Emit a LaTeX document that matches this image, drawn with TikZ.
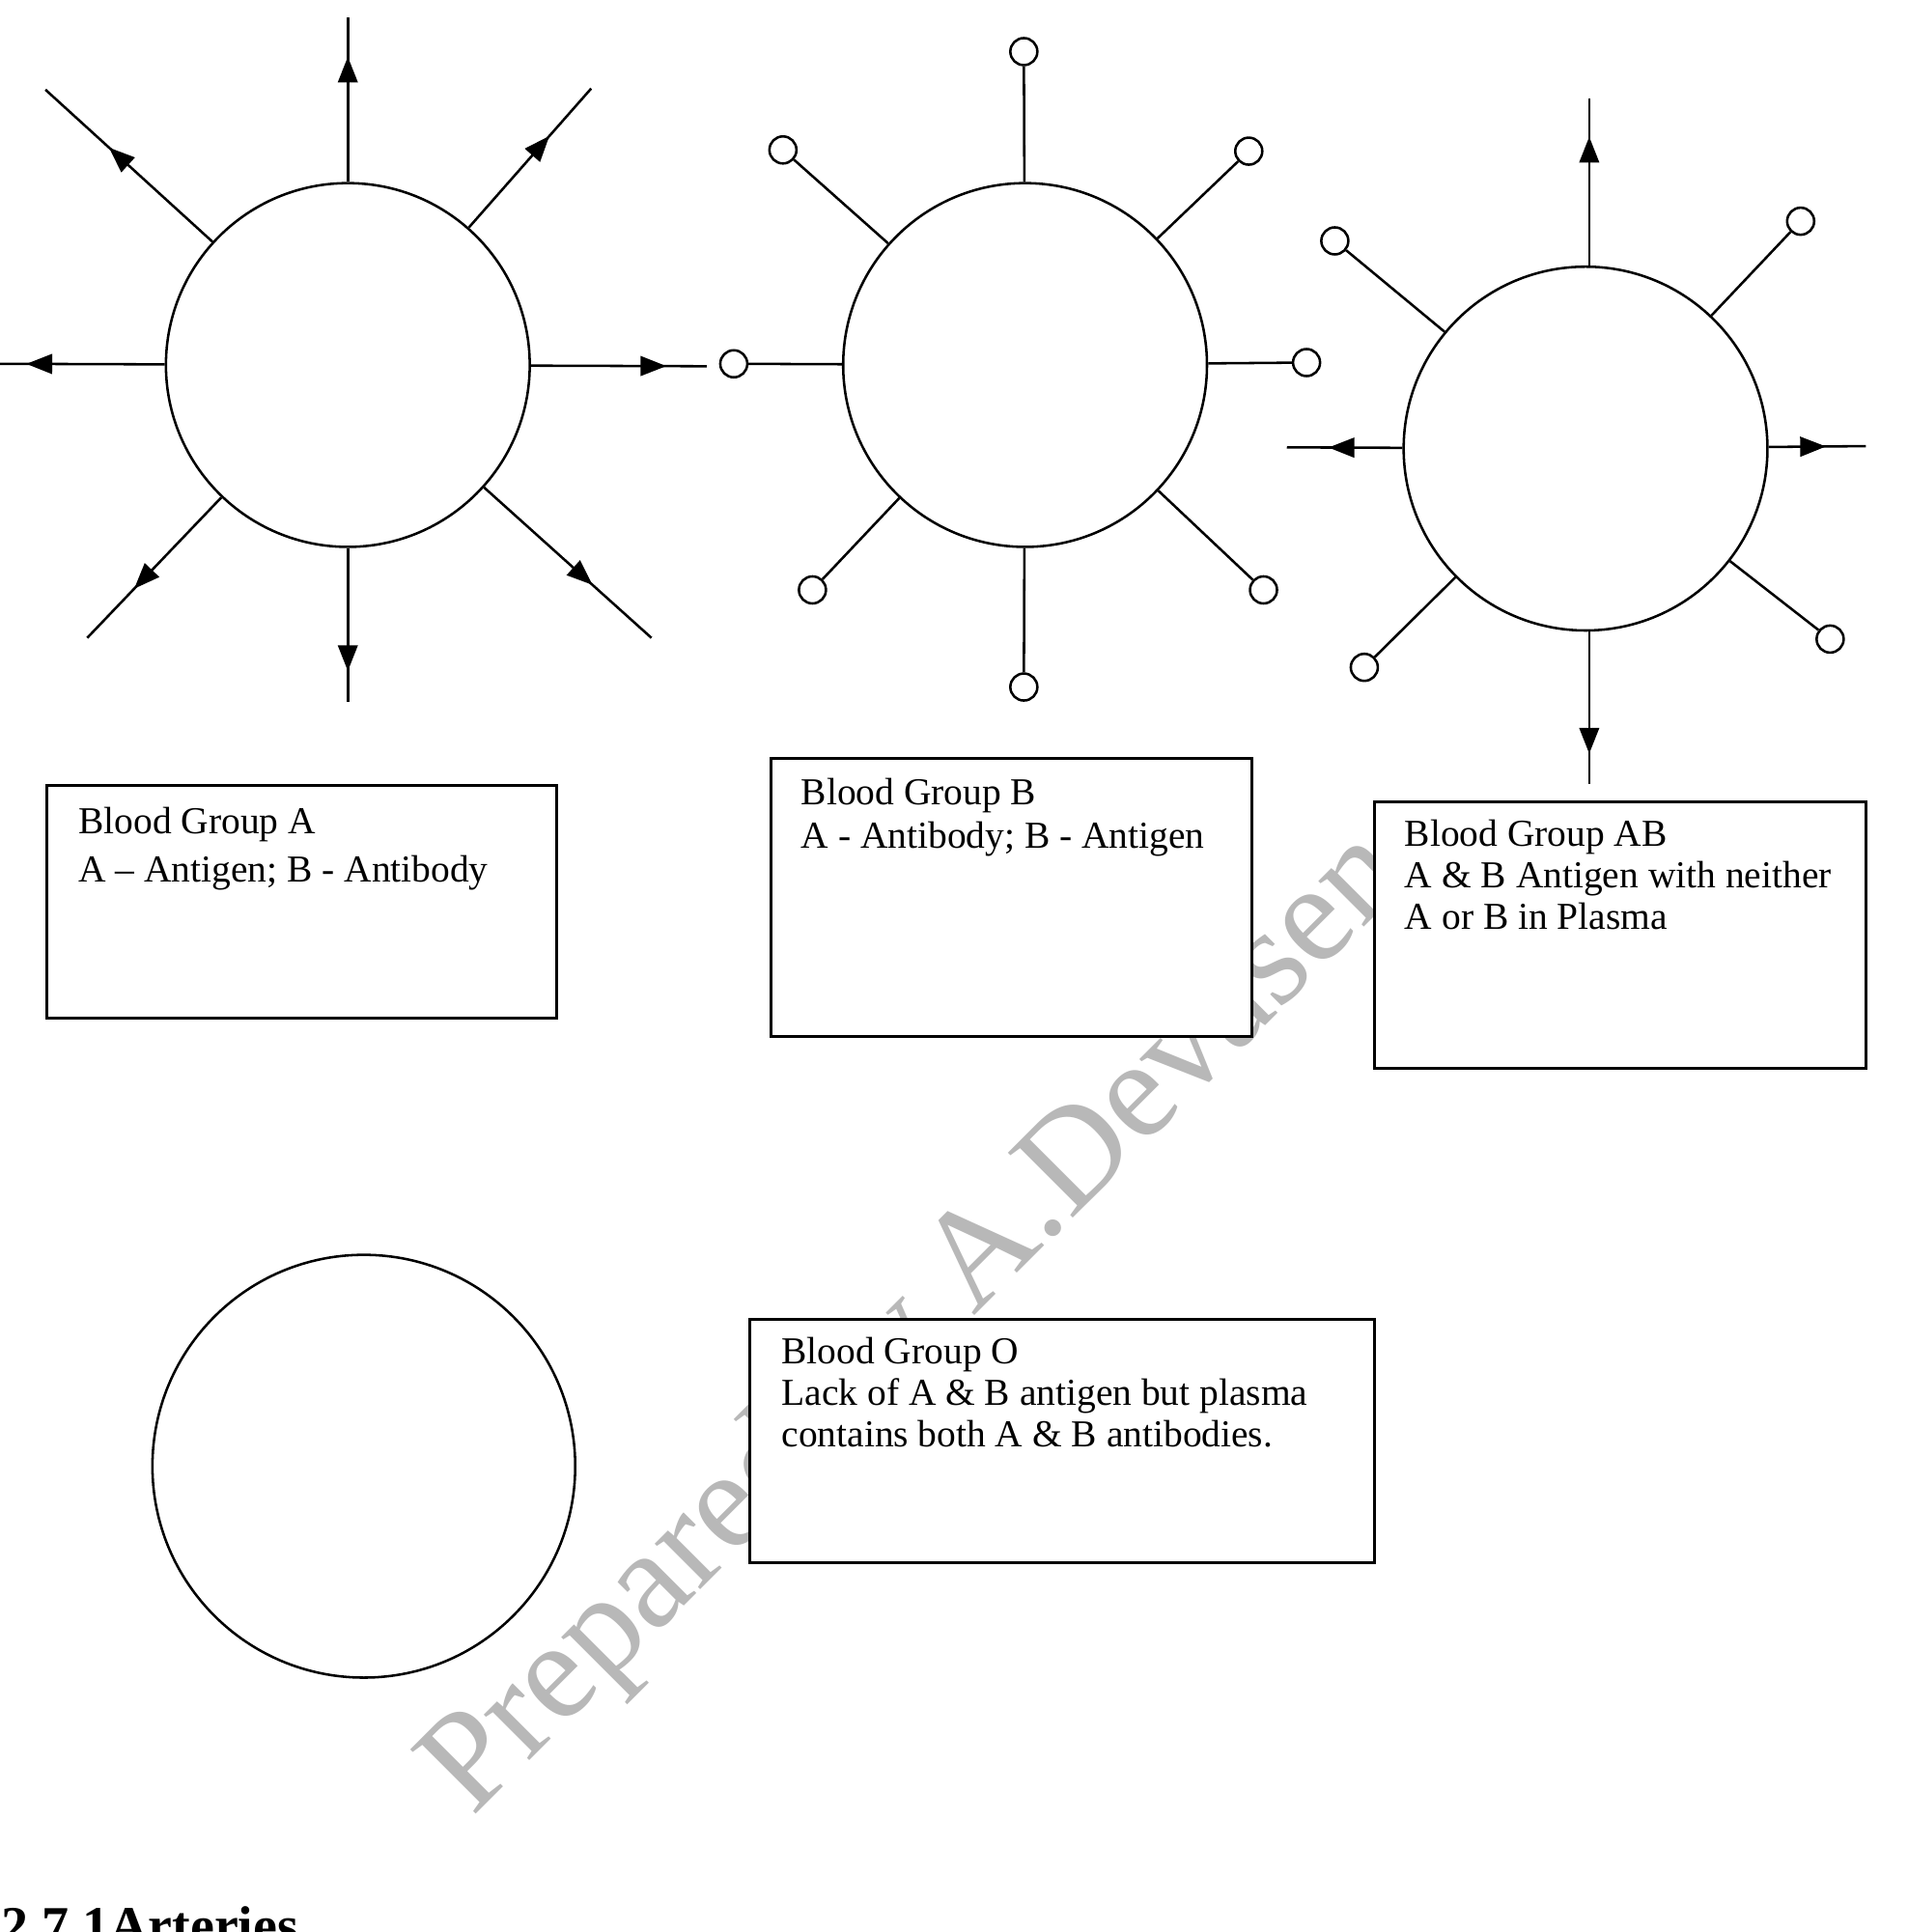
\documentclass[tikz,border=0pt]{standalone}
\usepackage{fontspec}
\setmainfont{Liberation Serif}
\usetikzlibrary{arrows.meta,decorations.markings}
\begin{document}
\begin{tikzpicture}[x=0.5pt,y=-0.5pt,line width=1pt,
  cell/.style={circle,draw,minimum size=148pt,inner sep=0pt},
  cellO/.style={circle,draw,minimum size=172pt,inner sep=0pt},
  bub/.style={circle,draw,minimum size=11pt,inner sep=0pt},
  midarrow/.style={postaction={decorate},decoration={markings,mark=at position #1 with {\arrow{Triangle[length=10.5pt,width=8pt]}}}},
  txtbox/.style={draw,line width=1.2pt,fill=white,inner sep=0pt},
  boxtext/.style={anchor=north west,align=left,inner sep=0pt,font=\fontsize{15.5}{18}\selectfont}]
\clip (0,0) rectangle (1552,1572);
\fill[white] (0,0) rectangle (1552,1572);
% watermark
\node[rotate=45,text=black!28,font=\fontsize{57}{57}\selectfont] (wm) at (765,1060) {Prepared by A.Devasena};
% Group A
\node[cell] (cA) at (283,297) {};
\coordinate (a1) at (283,14); \coordinate (a2) at (481,72); \coordinate (a3) at (575,298);
\coordinate (a4) at (530,519); \coordinate (a5) at (283,571); \coordinate (a6) at (71,519);
\coordinate (a7) at (0,296); \coordinate (a8) at (37,73);
\draw[midarrow=0.76] (cA) -- (a1);
\draw[midarrow=0.66] (cA) -- (a2);
\draw[midarrow=0.77] (cA) -- (a3);
\draw[midarrow=0.65] (cA) -- (a4);
\draw[midarrow=0.8] (cA) -- (a5);
\draw[midarrow=0.65] (cA) -- (a6);
\draw[midarrow=0.84] (cA) -- (a7);
\draw[midarrow=0.62] (cA) -- (a8);
% Group B
\node[cell] (cB) at (834,297) {};
\node[bub] (b1) at (833,42) {}; \node[bub] (b2) at (1016,123) {}; \node[bub] (b3) at (1063,295) {};
\node[bub] (b4) at (1028,480) {}; \node[bub] (b5) at (833,559) {}; \node[bub] (b6) at (661,480) {};
\node[bub] (b7) at (597,296) {}; \node[bub] (b8) at (637,122) {};
\foreach \i in {1,...,8} \draw (cB) -- (b\i);
% Group AB
\node[cell] (cAB) at (1290,365) {};
\coordinate (c1) at (1293,80); \coordinate (c3) at (1518,363); \coordinate (c5) at (1293,638); \coordinate (c7) at (1047,364);
\node[bub] (c2) at (1465,180) {}; \node[bub] (c4) at (1489,520) {};
\node[bub] (c6) at (1110,543) {}; \node[bub] (c8) at (1086,196) {};
\draw[midarrow=0.77] (cAB.north -| c1) -- (c1);
\draw[midarrow=0.59] (cAB) -- (c3);
\draw[midarrow=0.8] (cAB.south -| c5) -- (c5);
\draw[midarrow=0.64] (cAB) -- (c7);
\foreach \i in {2,4,6,8} \draw (cAB) -- (c\i);
% Group O
\node[cellO] (cO) at (296,1193) {};
% boxes
\node[txtbox,anchor=north west,minimum width=207.5pt,minimum height=94.5pt] (bxA) at (37,638) {};
\node[boxtext] (tA) at (63,656) {Blood Group A\\[1.5pt]A -- Antigen; B - Antibody};
\node[txtbox,anchor=north west,minimum width=195.5pt,minimum height=113pt] (bxB) at (626,616) {};
\node[boxtext] (tB) at (651,632) {Blood Group B\\A - Antibody; B - Antigen};
\node[txtbox,anchor=north west,minimum width=200pt,minimum height=108.5pt] (bxAB) at (1117,651) {};
\node[boxtext] (tAB) at (1142,666) {Blood Group AB\\[-1pt]A \& B Antigen with neither\\[-1pt]A or B in Plasma};
\node[txtbox,anchor=north west,minimum width=254pt,minimum height=99pt] (bxO) at (609,1072) {};
\node[boxtext] (tO) at (635,1087) {Blood Group O\\[-1pt]Lack of A \& B antigen but plasma\\[-1pt]contains both A \& B antibodies.};
% heading
\node[anchor=base west,inner sep=0pt,font=\fontsize{22}{22}\selectfont\bfseries] (hd) at (0,1582) {2.7.1Arteries};
\end{tikzpicture}
\end{document}
